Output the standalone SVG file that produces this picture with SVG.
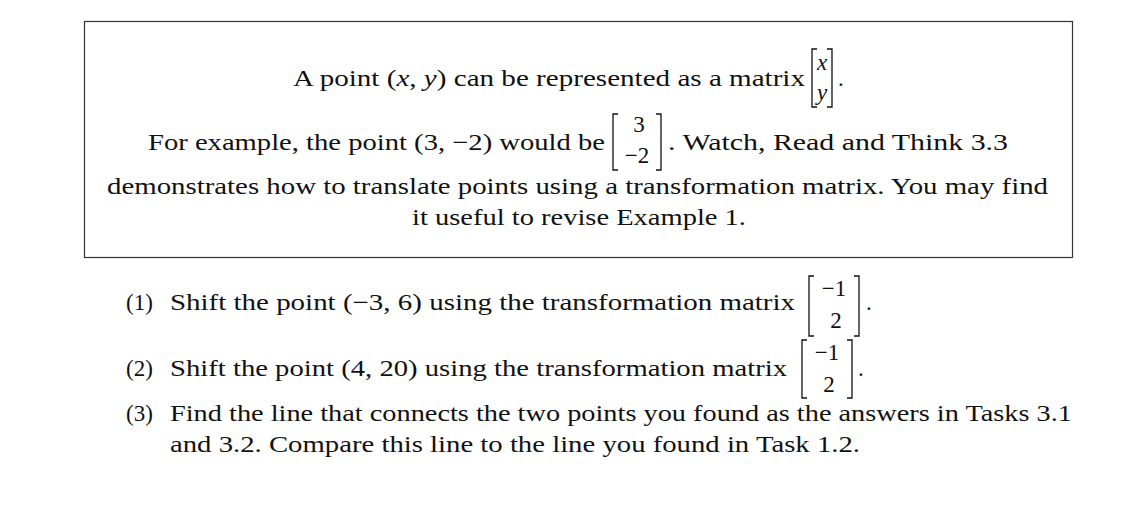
<svg xmlns="http://www.w3.org/2000/svg" width="1143" height="508" viewBox="0 0 1143 508">
<style>
text{font-family:"Liberation Serif","DejaVu Serif",serif;font-size:23px;fill:#111}
.c{text-anchor:middle}
.i{font-style:italic}
.br{fill:none;stroke:#111;stroke-width:1.3}
</style>
<rect width="1143" height="508" fill="#fff"/>
<rect x="84.5" y="21.5" width="988" height="236" fill="none" stroke="#333" stroke-width="1.2"/>
<text x="293" y="86" textLength="512" lengthAdjust="spacingAndGlyphs">A point (<tspan class="i">x</tspan>, <tspan class="i">y</tspan>) can be represented as a matrix</text>
<path class="br" d="M817,49 h-5 v58 h5 M827,49 h5 v58 h-5"/>
<text x="822" y="70" class="c i">x</text>
<text x="822" y="100" class="c i">y</text>
<text x="838" y="86">.</text>
<text x="148" y="150" textLength="457" lengthAdjust="spacingAndGlyphs">For example, the point (3, −2) would be</text>
<path class="br" d="M618,114 h-5 v56 h5 M656,114 h5 v56 h-5"/>
<text x="639" y="132" class="c">3</text>
<text x="637" y="163" class="c">−2</text>
<text x="668" y="150" textLength="340" lengthAdjust="spacingAndGlyphs">. Watch, Read and Think 3.3</text>
<text x="107" y="194" textLength="941" lengthAdjust="spacingAndGlyphs">demonstrates how to translate points using a transformation matrix. You may find</text>
<text x="412" y="225" textLength="334" lengthAdjust="spacingAndGlyphs">it useful to revise Example 1.</text>
<text x="126" y="310">(1)</text>
<text x="170" y="310" textLength="625" lengthAdjust="spacingAndGlyphs">Shift the point (−3, 6) using the transformation matrix</text>
<path class="br" d="M814,276 h-5 v60 h5 M854,276 h5 v60 h-5"/>
<text x="834" y="296" class="c">−1</text>
<text x="836" y="328" class="c">2</text>
<text x="866" y="310">.</text>
<text x="126" y="376">(2)</text>
<text x="170" y="376" textLength="617" lengthAdjust="spacingAndGlyphs">Shift the point (4, 20) using the transformation matrix</text>
<path class="br" d="M807,340 h-5 v58 h5 M847,340 h5 v58 h-5"/>
<text x="827" y="360" class="c">−1</text>
<text x="829" y="392" class="c">2</text>
<text x="858" y="376">.</text>
<text x="126" y="421">(3)</text>
<text x="170" y="421" textLength="902" lengthAdjust="spacingAndGlyphs">Find the line that connects the two points you found as the answers in Tasks 3.1</text>
<text x="170" y="452" textLength="690" lengthAdjust="spacingAndGlyphs">and 3.2. Compare this line to the line you found in Task 1.2.</text>
</svg>
